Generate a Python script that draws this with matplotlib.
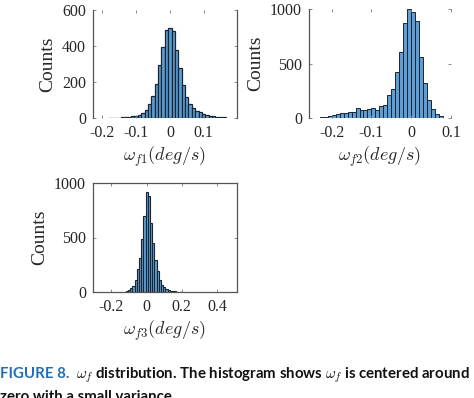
import numpy as np
import matplotlib
matplotlib.use("Agg")
import matplotlib.pyplot as plt

# ---------------- data ----------------
f1_centers = [-0.18, -0.17, -0.16, -0.15, -0.14, -0.13, -0.12, -0.11, -0.10, -0.09,
              -0.08, -0.07, -0.06, -0.05, -0.04, -0.03, -0.02, -0.01, 0.00, 0.01,
              0.02, 0.03, 0.04, 0.05, 0.06, 0.07, 0.08, 0.09, 0.10, 0.11,
              0.12, 0.13, 0.14, 0.15, 0.16]
f1_counts = [2, 0, 0, 0, 3, 3, 8, 11, 13, 17,
             26, 44, 80, 125, 190, 295, 395, 490, 498, 482,
             380, 280, 185, 115, 80, 55, 40, 32, 20, 15,
             10, 9, 6, 7, 4]
f1_width = 0.01

f2_centers = [-0.235, -0.225, -0.215, -0.205, -0.195, -0.185, -0.175, -0.165,
              -0.155, -0.145, -0.135, -0.125, -0.115, -0.105, -0.095, -0.085,
              -0.075, -0.065, -0.055, -0.045, -0.035, -0.025, -0.015, -0.005,
              0.005, 0.015, 0.025, 0.035, 0.045, 0.055, 0.065, 0.075]
f2_counts = [3, 6, 12, 18, 25, 40, 46, 46,
             52, 55, 95, 71, 77, 83, 95, 77,
             114, 123, 215, 262, 425, 610, 870, 1000,
             975, 886, 563, 317, 169, 86, 40, 15]
f2_width = 0.01

f3_centers = [-0.125, -0.1125, -0.1, -0.0875, -0.075, -0.0625, -0.05, -0.0375,
              -0.025, -0.0125, 0.0, 0.0125, 0.025, 0.0375, 0.05, 0.0625,
              0.075, 0.0875, 0.1, 0.1125, 0.125, 0.1375, 0.15, 0.1625,
              0.175, 0.1875]
f3_counts = [3, 8, 20, 37, 58, 114, 212, 314,
             483, 698, 920, 883, 637, 452, 298, 191,
             114, 68, 46, 28, 22, 12, 9, 6,
             4, 2]
f3_width = 0.0125

f1_xticks = [-0.2, -0.1, 0, 0.1]
f1_xlabels = ["-0.2", "-0.1", "0", "0.1"]
f1_yticks = [0, 200, 400, 600]
f2_xticks = [-0.2, -0.1, 0, 0.1]
f2_xlabels = ["-0.2", "-0.1", "0", "0.1"]
f2_yticks = [0, 500, 1000]
f3_xticks = [-0.2, 0, 0.2, 0.4]
f3_xlabels = ["-0.2", "0", "0.2", "0.4"]
f3_yticks = [0, 500, 1000]

caption_head = 'FIGURE 8.'
caption_line1 = r'$\omega_f$ distribution. The histogram shows $\omega_f$ is centered around'
caption_line2 = 'zero with a small variance'

# ---------------- style ----------------
plt.rcParams['mathtext.fontset'] = 'cm'
plt.rcParams['axes.unicode_minus'] = False
SERIF = ['Liberation Serif', 'DejaVu Serif']
FACE = '#5b9fd6'
EDGE = '#1c2430'
TXT = '#262626'
SPINE = '#555555'

W, H = 474, 398
fig = plt.figure(figsize=(W / 100, H / 100), dpi=100)


def px_axes(left, top, right, bottom):
    return fig.add_axes([left / W, 1 - bottom / H, (right - left) / W, (bottom - top) / H])


def style(ax, centers, counts, width, xlim, ylim, xt, xtl, yt, xlabel, spines, elw):
    ax.bar(centers, counts, width=width, align='center', color=FACE,
           edgecolor=EDGE, linewidth=elw)
    ax.set_xlim(*xlim)
    ax.set_ylim(*ylim)
    ax.set_xticks(xt)
    ax.set_xticklabels(xtl)
    ax.set_yticks(yt)
    ax.set_yticklabels([str(v) for v in yt])
    for lab in ax.get_xticklabels() + ax.get_yticklabels():
        lab.set_family(SERIF)
        lab.set_fontsize(11.5)
        lab.set_color(TXT)
    ax.tick_params(direction='in', length=2.5, width=0.6, color='#777777',
                   top=True, right=True, pad=5)
    for s in ['left', 'right', 'top', 'bottom']:
        ax.spines[s].set_visible(s in spines)
        ax.spines[s].set_color(SPINE)
        ax.spines[s].set_linewidth(0.9)
    ax.set_ylabel('Counts', family=SERIF, fontsize=14, color=TXT, labelpad=4)
    ax.set_xlabel(xlabel, fontsize=13, color=TXT, labelpad=3)
    ax.set_facecolor('white')


ax1 = px_axes(93, 10, 237, 118)
style(ax1, f1_centers, f1_counts, f1_width, (-0.228, 0.199), (0, 600),
      f1_xticks, f1_xlabels, f1_yticks, r'$\omega_{f1}(deg/s)$', ['left', 'right'], 0.9)

ax2 = px_axes(309, 9, 451, 118)
style(ax2, f2_centers, f2_counts, f2_width, (-0.257, 0.1), (0, 1000),
      f2_xticks, f2_xlabels, f2_yticks, r'$\omega_{f2}(deg/s)$', ['left'], 0.7)

ax3 = px_axes(93, 183, 237, 292)
style(ax3, f3_centers, f3_counts, f3_width, (-0.305, 0.514), (0, 1000),
      f3_xticks, f3_xlabels, f3_yticks, r'$\omega_{f3}(deg/s)$',
      ['left', 'right', 'top', 'bottom'], 0.8)

# ---------------- caption ----------------
CAP_FONT = ['Lato', 'Open Sans', 'DejaVu Sans']
base1 = 1 - 378 / H
size = 10.5
t1 = fig.text(0.0, base1, caption_head, family=CAP_FONT, weight='bold',
              fontsize=size, color='#1f6fb8', ha='left', va='baseline')
t2 = fig.text(0.0, base1, caption_line1, family=CAP_FONT, weight='bold',
              fontsize=size, color='#111111', ha='left', va='baseline')
t3 = fig.text(0.0, 1 - 401 / H, caption_line2, family=CAP_FONT, weight='bold',
              fontsize=size, color='#111111', ha='left', va='baseline')
gap_px = 7
for _ in range(3):
    fig.canvas.draw()
    r = fig.canvas.get_renderer()
    b1 = t1.get_window_extent(r)
    t2.set_x((b1.x1 + gap_px) / W)
    fig.canvas.draw()
    b2 = t2.get_window_extent(r)
    total = b2.x1
    size = size * 472.0 / total
    for t in (t1, t2, t3):
        t.set_fontsize(size)
fig.canvas.draw()
b1 = t1.get_window_extent(fig.canvas.get_renderer())
t2.set_x((b1.x1 + gap_px) / W)

fig.savefig('out.png', dpi=100, facecolor='white')
